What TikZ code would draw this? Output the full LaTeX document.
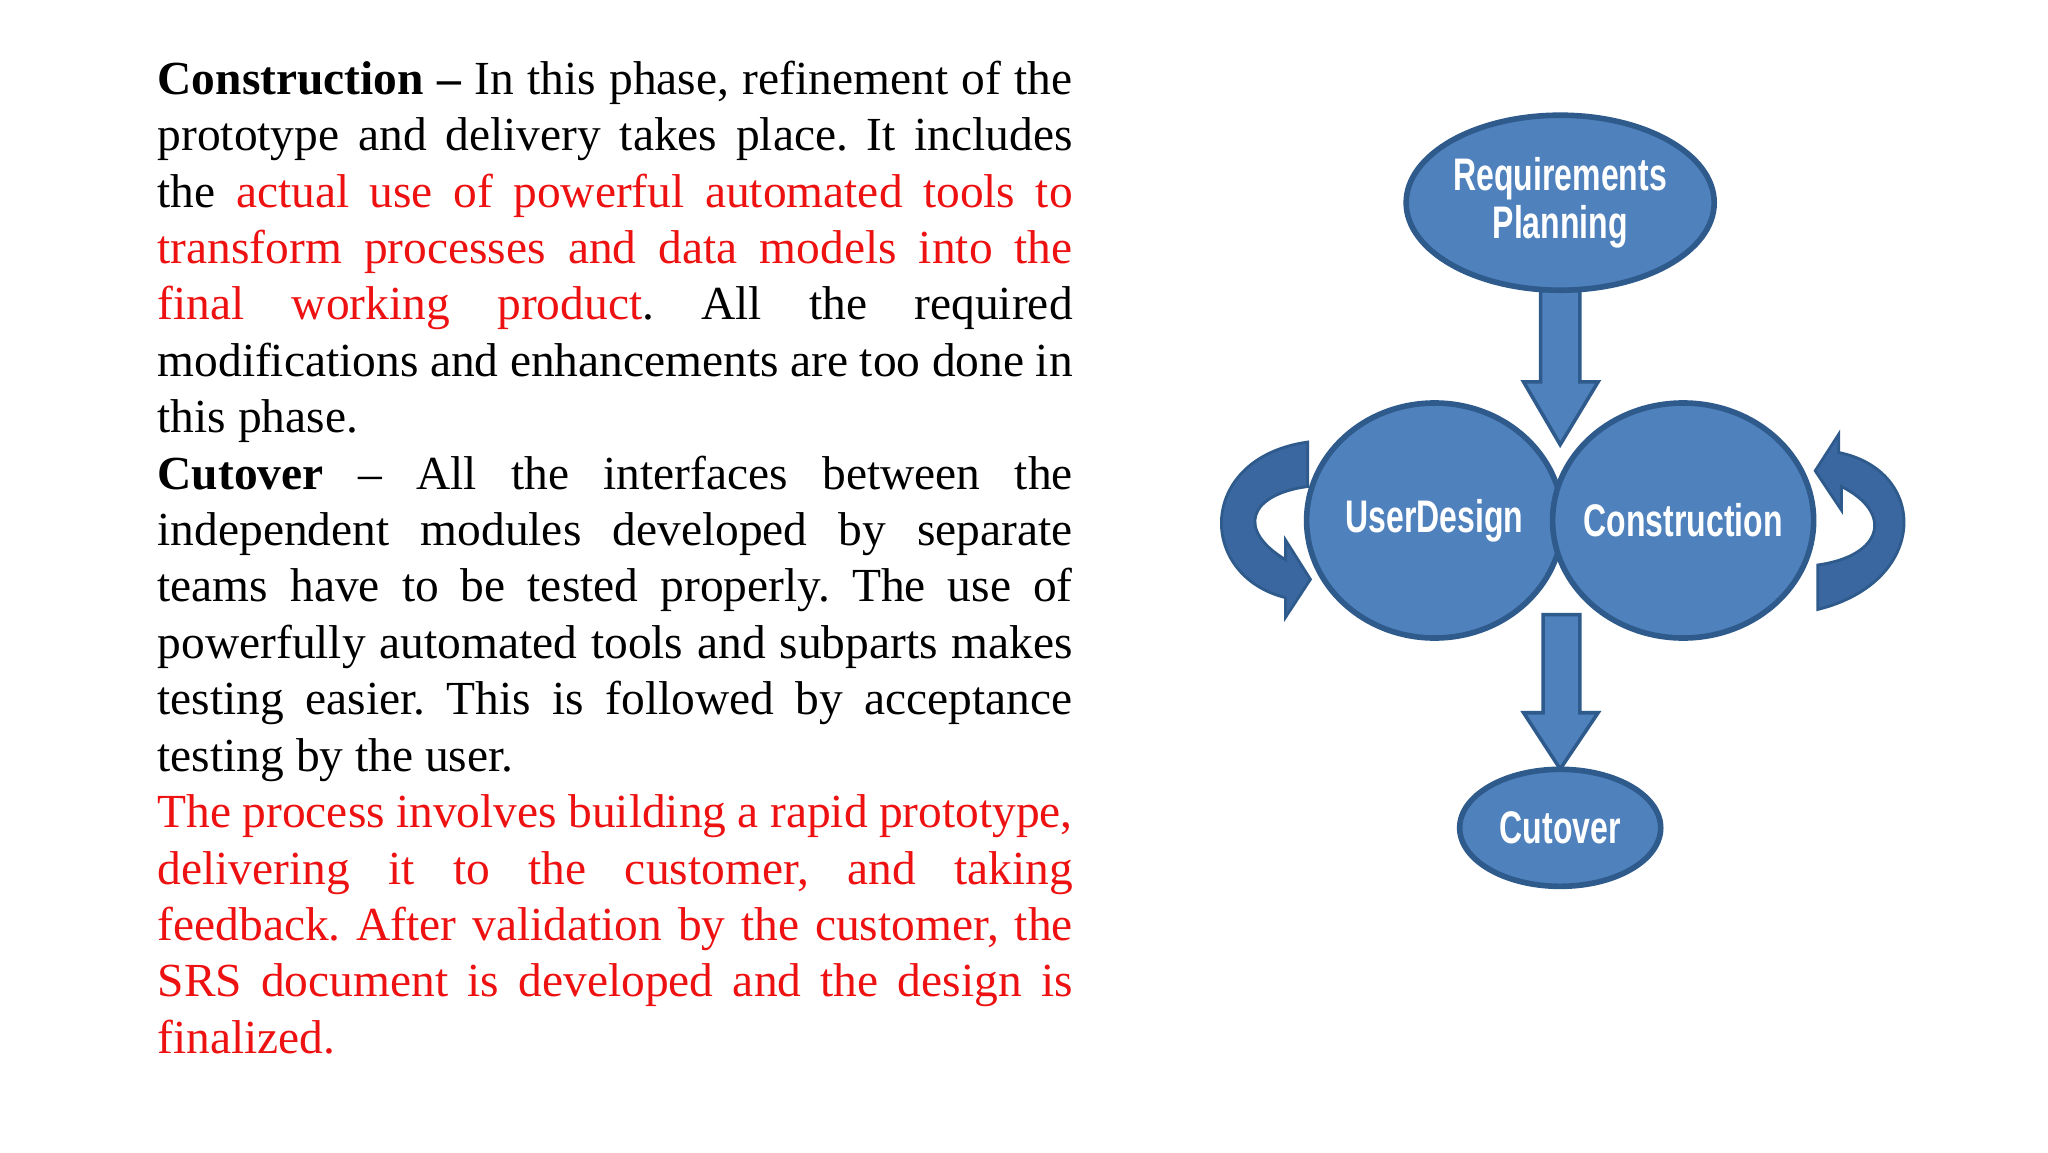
\documentclass[tikz,border=0pt]{standalone}
\usepackage{fontspec}
\setmainfont{Liberation Serif}
\newfontfamily\diagfont{Liberation Sans}
\usetikzlibrary{shapes.geometric}
\definecolor{bfill}{HTML}{4F81BD}
\definecolor{bdraw}{HTML}{2F5A8C}
\definecolor{bdark}{HTML}{3A67A0}
\definecolor{tred}{HTML}{EE1111}
\tikzset{
  blob/.style={ellipse,fill=bfill,draw=bdraw,line width=1.6pt,inner sep=0pt},
  lab/.style={text=white,font=\diagfont\bfseries\fontsize{13}{14.5}\selectfont,align=center},
  blockarrow/.style={fill=bfill,draw=bdraw,line width=1pt},
  bandarrow/.style={fill=bdark,draw=bdraw,line width=0.8pt}
}
\begin{document}
\begin{tikzpicture}[x=0.013078cm,y=-0.013078cm]
\useasboundingbox (0,0) rectangle (1566,881);
\fill[white] (0,0) rectangle (1566,881);
\node[anchor=north west,inner sep=0pt,text width=9.15cm,align=justify,
  font=\fontsize{13.5}{16.05}\selectfont\frenchspacing] (txt) at (120,46) {%
\textbf{Construction –} In this phase, refinement of the\linebreak
prototype and delivery takes place. It includes\linebreak
the \textcolor{tred}{actual use of powerful automated tools to\linebreak
transform processes and data models into the\linebreak
final working product}. All the required\linebreak
modifications and enhancements are too done in\linebreak
this phase.\par
\textbf{Cutover} – All the interfaces between the\linebreak
independent modules developed by separate\linebreak
teams have to be tested properly. The use of\linebreak
powerfully automated tools and subparts makes\linebreak
testing easier. This is followed by acceptance\linebreak
testing by the user.\par
\textcolor{tred}{The process involves building a rapid prototype,\linebreak
delivering it to the customer, and taking\linebreak
feedback. After validation by the customer, the\linebreak
SRS document is developed and the design is\linebreak
finalized.}};

% block arrows
\draw[blockarrow] (1178,222) -- (1208,222) -- (1208,292) -- (1222,292) -- (1193,340) -- (1165,292) -- (1178,292) -- cycle;
\draw[blockarrow] (1180,470) -- (1208,470) -- (1208,545) -- (1222,545) -- (1193,588) -- (1165,545) -- (1180,545) -- cycle;

% nodes
\node[blob,minimum width=3.08cm,minimum height=1.75cm] (req) at (1193,155) {};
\node[lab] at (req.center) {\scalebox{0.7}[1]{Requirements}\\[-1pt]\scalebox{0.7}[1]{Planning}};
\node[blob,minimum width=2.56cm,minimum height=2.35cm] (ud) at (1097,398) {};
\node[blob,minimum width=2.61cm,minimum height=2.35cm] (con) at (1287,398) {};
\node[lab] at (ud.center) {\scalebox{0.7}[1]{UserDesign}};
\node[lab] at (con.center) {\scalebox{0.7}[1]{Construction}};
\node[blob,minimum width=2.01cm,minimum height=1.17cm] (cut) at (1193,633) {};
\node[lab] at (cut.center) {\scalebox{0.7}[1]{Cutover}};

% curved arrows
\draw[bandarrow] (1000,338) -- (1000,372)
  .. controls (955,378) and (945,405) .. (983,428)
  -- (983,413) -- (1002,443) -- (983,472) -- (983,457)
  .. controls (915,440) and (915,350) .. (1000,338) -- cycle;
\draw[bandarrow] (1390,466) -- (1390,432)
  .. controls (1440,425) and (1448,392) .. (1408,372)
  -- (1408,390) -- (1388,360) -- (1406,332) -- (1406,346)
  .. controls (1475,360) and (1475,445) .. (1390,466) -- cycle;
\end{tikzpicture}
\end{document}
